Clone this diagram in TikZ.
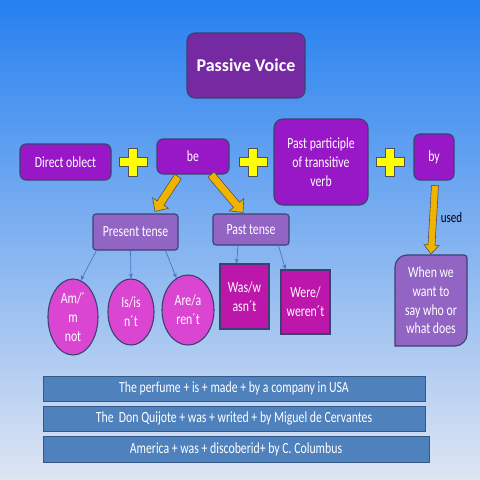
\documentclass[tikz,border=0pt]{standalone}
\usepackage{fontspec}
\setmainfont{Carlito}[FakeStretch=0.76]
\newfontfamily\titlefont{Carlito}
\usetikzlibrary{calc,arrows.meta,shapes.geometric}
\definecolor{bgtop}{RGB}{38,128,240}
\definecolor{bgmid}{RGB}{150,190,242}
\definecolor{bgbot}{RGB}{222,229,242}
\definecolor{titlec}{RGB}{118,42,162}
\definecolor{violetc}{RGB}{152,24,200}
\definecolor{lavc}{RGB}{146,100,196}
\definecolor{ellc}{RGB}{218,70,210}
\definecolor{rectc}{RGB}{188,22,170}
\definecolor{barc}{RGB}{79,129,189}
\definecolor{barline}{RGB}{52,88,136}
\definecolor{edgec}{RGB}{58,66,112}
\definecolor{plusfill}{RGB}{255,255,0}
\definecolor{plusline}{RGB}{80,80,90}
\definecolor{arrowfill}{RGB}{240,180,0}
\definecolor{thinc}{RGB}{70,120,190}
\tikzset{
  base/.style={draw=edgec, line width=1.1pt, text=white, inner sep=0pt, align=center,
    font=\fontsize{15.5}{19}\selectfont},
  vbox/.style={base, fill=violetc, rounded corners=6pt},
  lbox/.style={base, fill=lavc, rounded corners=3pt},
  ebox/.style={base, ellipse, fill=ellc},
  rbox/.style={base, fill=rectc},
  bar/.style={draw=barline, line width=1pt, fill=barc, text=white, inner sep=0pt,
    font=\fontsize{15.5}{17}\selectfont},
  thin/.style={draw=thinc, line width=0.7pt, -{Stealth[length=5pt,width=4pt]}},
  blockarrow/.style n args={3}{draw=plusline, fill=arrowfill, line width=0.6pt,
    to path={let \p1=($(\tikztotarget)-(\tikztostart)$), \n1={atan2(\y1,\x1)}, \n2={veclen(\x1,\y1)} in
      ($(\tikztostart)+(\n1+90:#1)$) -- ++({\n1}:{\n2-#3}) -- ++({\n1+90}:{#2-#1}) -- (\tikztotarget)
      -- ($(\tikztostart)+({\n1}:{\n2-#3})+({\n1-90}:#2)$) -- ++({\n1+90}:{#2-#1})
      -- ($(\tikztostart)+(\n1-90:#1)$) -- cycle}},
  plussign/.pic={\draw[fill=plusfill, draw=plusline, line width=0.8pt]
    (-4.5,-14) -- (4.5,-14) -- (4.5,-4.5) -- (14,-4.5) -- (14,4.5) -- (4.5,4.5) -- (4.5,14)
    -- (-4.5,14) -- (-4.5,4.5) -- (-14,4.5) -- (-14,-4.5) -- (-4.5,-4.5) -- cycle;}
}
\begin{document}
\begin{tikzpicture}[x=1pt,y=1pt]
\useasboundingbox (0,0) rectangle (480,-480);
\shade[top color=bgtop, middle color=bgmid, bottom color=bgbot] (0,0) rectangle (480,-480);

\node[base, fill=titlec, rounded corners=8pt, minimum width=118pt, minimum height=65pt,
  font=\titlefont\bfseries\fontsize{18}{22}\selectfont] (title) at (246,-65.5) {Passive Voice};

\node[vbox, minimum width=91pt, minimum height=36pt] (dobj) at (65.5,-162) {Direct oblect};
\node[vbox, minimum width=72pt, minimum height=35pt] (be) at (193,-156.5) {be};
\node[vbox, rounded corners=9pt, minimum width=94pt, minimum height=86pt] (pp) at (321,-162)
  {Past participle\\of transitive\\verb};
\node[vbox, minimum width=40pt, minimum height=46pt] (by) at (434,-157) {by};

\pic at (133,-162) {plussign};
\pic at (253,-162) {plussign};
\pic at (390,-162) {plussign};

\node[lbox, minimum width=85pt, minimum height=36pt] (pres) at (135.5,-232) {Present tense};
\node[lbox, minimum width=76pt, minimum height=31pt] (past) at (251,-229.5) {Past tense};

% When box: rounded top-left and bottom-right
\fill[lavc, draw=edgec, line width=1.1pt]
  (395,-300) [rounded corners=12pt] -- (395,-255) [rounded corners=3pt] -- (467,-255)
  [rounded corners=12pt] -- (467,-346) [sharp corners] -- (395,-346) -- cycle;
\node[text=white, align=center, font=\fontsize{15.5}{18.7}\selectfont, inner sep=0pt]
  (when) at (431,-300.5) {When we\\want to\\say who or\\what does};
\path (431,-255) coordinate (whentop);

\node[ebox, minimum width=50pt, minimum height=76pt] (am) at (73,-317) {Am/´\\m\\not};
\node[ebox, minimum width=46pt, minimum height=66pt] (is) at (131,-312) {Is/is\\n´t};
\node[ebox, minimum width=52pt, minimum height=70pt] (are) at (188,-310) {Are/a\\ren´t};

\node[rbox, minimum width=49pt, minimum height=65pt] (was) at (244.5,-296.5) {Was/w\\asn´t};
\node[rbox, minimum width=49pt, minimum height=64pt] (were) at (305.5,-302) {Were/\\weren´t};

\node[bar, minimum width=382pt, minimum height=25pt] (b1) at (234,-388.5)
  {The perfume + is + made + by a company in USA};
\node[bar, minimum width=382pt, minimum height=25pt] (b2) at (234,-418.5)
  {The\ \ Don Quijote + was + writed + by Miguel de Cervantes};
\node[bar, minimum width=386pt, minimum height=26pt] (b3) at (236,-449)
  {America + was + discoberid+ by C. Columbus};

% block arrows
\draw[blockarrow={4}{9.5}{10}] ([xshift=-15pt,yshift=-2pt]be.south) to ([xshift=19.5pt,yshift=2pt]pres.north);
\draw[blockarrow={4}{9.5}{10}] ([xshift=18pt]be.south) to ([xshift=-8pt,yshift=1pt]past.north);
\draw[blockarrow={3.5}{7.5}{9}] ([xshift=1pt,yshift=-5pt]by.south) to ([yshift=1pt]whentop);
\node[text=black, font=\fontsize{14.5}{16}\selectfont, inner sep=0pt] (used) at (451.5,-218) {used};

% thin arrows
\draw[thin] ([xshift=4pt]pres.south west) to (am.78);
\draw[thin] ([xshift=-5pt]pres.south) to (is.north);
\draw[thin] ([xshift=-13pt]pres.south east) to (are.110);
\draw[thin] ([xshift=-13pt]past.south) to ([xshift=-8pt]was.north);
\draw[thin] ([xshift=-11pt]past.south east) to ([xshift=-20pt]were.north);
\end{tikzpicture}
\end{document}
